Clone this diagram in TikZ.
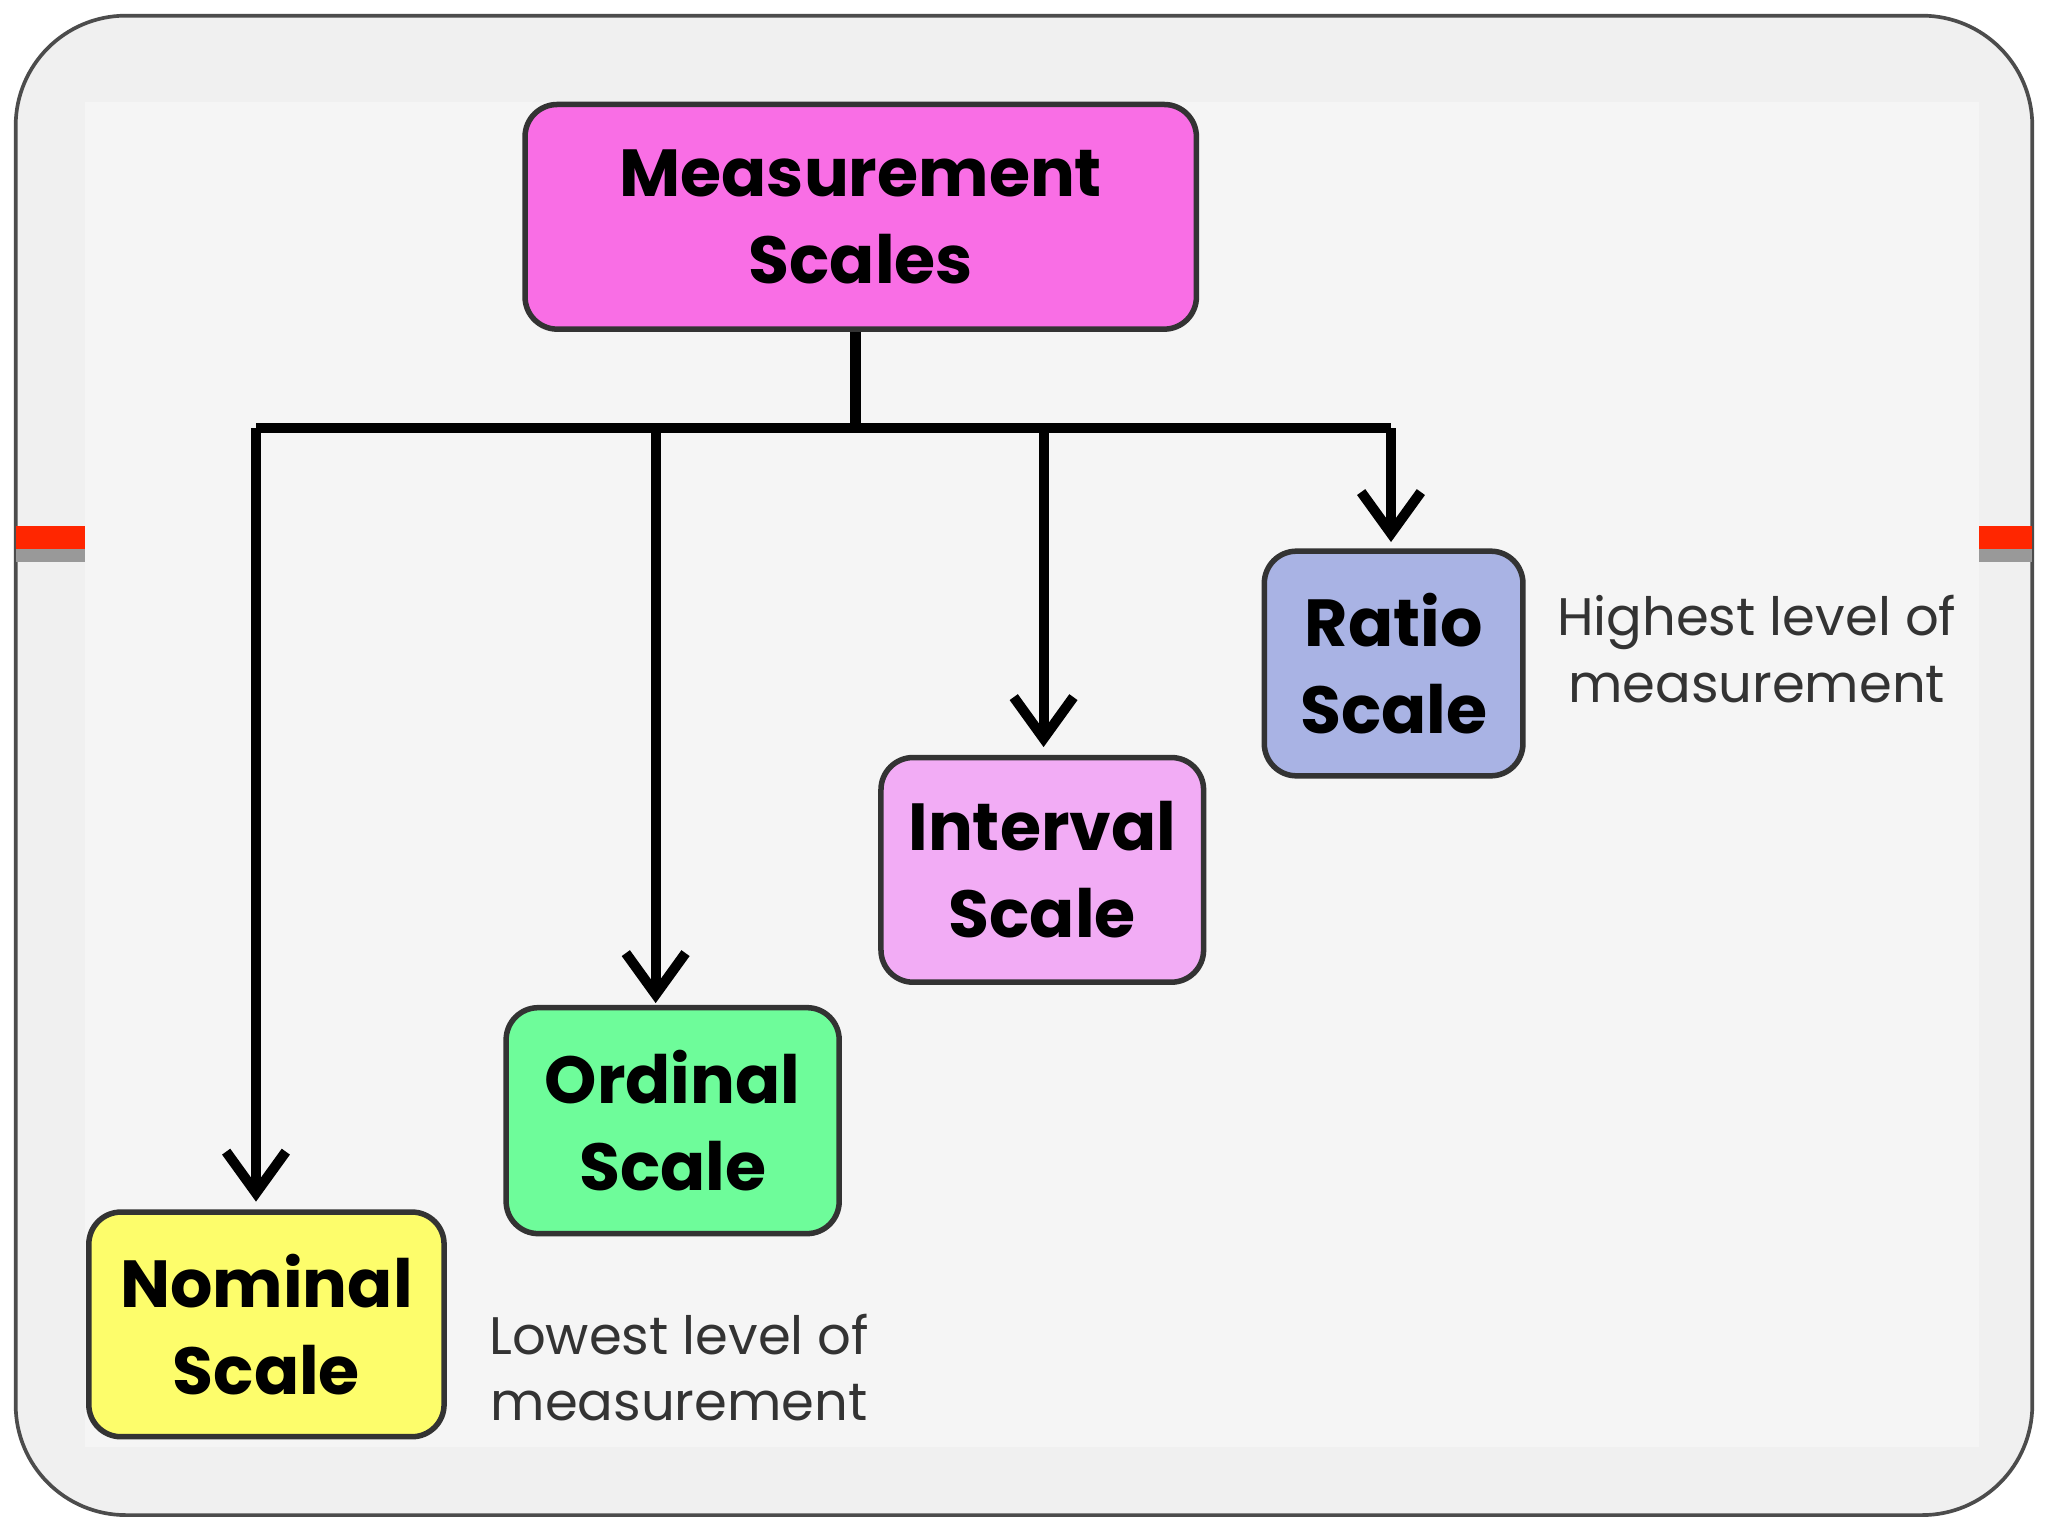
\documentclass[tikz,border=0pt]{standalone}
\usepackage{fontspec}
\setmainfont{Poppins}
\usetikzlibrary{arrows.meta}
\begin{document}
\begin{tikzpicture}[x=0.01cm,y=-0.01cm,
 box/.style={draw=black!80,line width=1.2pt,rounded corners=7pt,font=\fontsize{14.5}{19}\selectfont\bfseries,align=center,inner sep=0pt},
 con/.style={line width=2.2pt},
 arr/.style={con,-{Straight Barb[length=9pt,width=13pt,line width=2.2pt]}},
 note/.style={font=\fontsize{11.5}{14.5}\selectfont,align=center,text=black!80}]
\useasboundingbox (0,0) rectangle (1568,1176);
\fill[white] (0,0) rectangle (1568,1176);
\draw[black!70,line width=0.8pt,fill=black!6,rounded corners=24pt] (12,12) rectangle (1556,1160);
\fill[black!4] (65,78) rectangle (1515,1108);
\fill[red!70!orange] (12,403) rectangle (65,420);
\fill[black!40] (12,420) rectangle (65,430);
\fill[red!70!orange] (1515,403) rectangle (1556,420);
\fill[black!40] (1515,420) rectangle (1556,430);
\node[box,fill={rgb,255:red,249;green,110;blue,229},minimum width=514*0.01cm,minimum height=172*0.01cm] (ms) at (659,166) {Measurement\\Scales};
\node[box,fill={rgb,255:red,253;green,253;blue,107},minimum width=272*0.01cm,minimum height=172*0.01cm] (nom) at (204,1014) {Nominal\\Scale};
\node[box,fill={rgb,255:red,110;green,252;blue,154},minimum width=255*0.01cm,minimum height=173*0.01cm] (ord) at (515,858) {Ordinal\\Scale};
\node[box,fill={rgb,255:red,242;green,172;blue,245},minimum width=247*0.01cm,minimum height=172*0.01cm] (int) at (798,666) {Interval\\Scale};
\node[box,fill={rgb,255:red,169;green,179;blue,228},minimum width=198*0.01cm,minimum height=172*0.01cm] (rat) at (1067,508) {Ratio\\Scale};
\coordinate (j) at (655,328);
\coordinate (l) at (196,328);
\coordinate (r) at (1065,328);
\draw[con] (ms.south -| j) -- (j);
\draw[con] (l) -- (r);
\draw[arr] (l) -- (196,920);
\draw[arr] (502,328) -- (502,768);
\draw[arr] (799,328) -- (799,572);
\draw[arr] (r) -- (1065,415);
\node[note] (hi) at (1345,497) {Highest level of\\measurement};
\node[note] (lo) at (520,1047) {Lowest level of\\measurement};
\end{tikzpicture}
\end{document}
